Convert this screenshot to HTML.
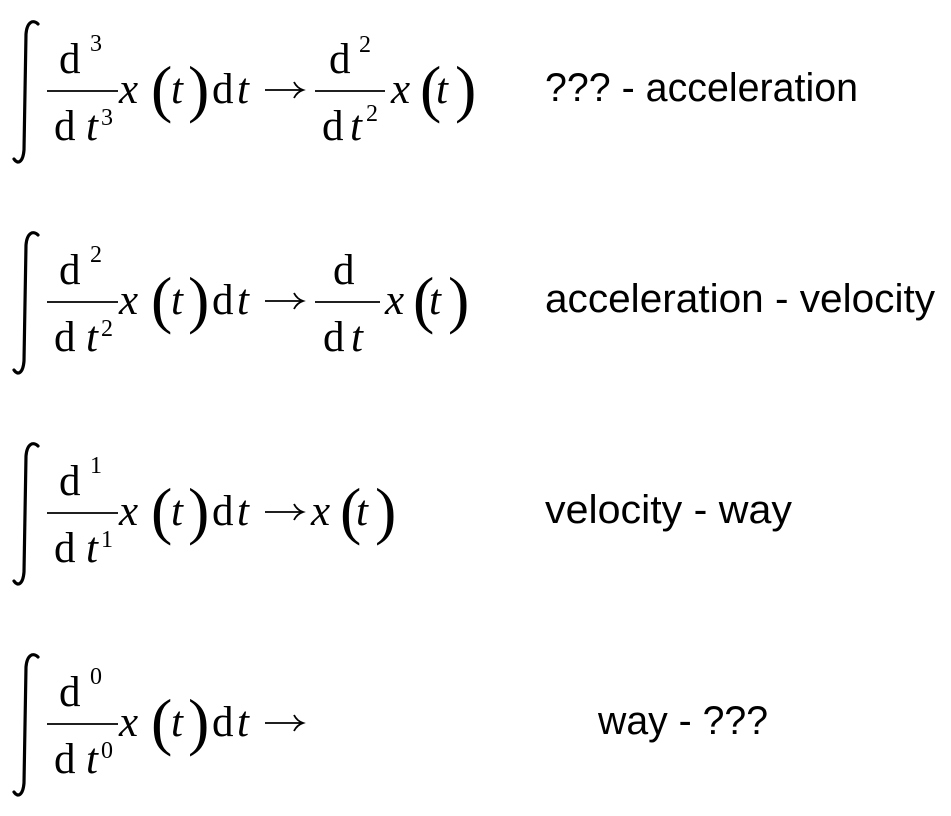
<!DOCTYPE html>
<html><head><meta charset="utf-8"><style>
html,body{margin:0;padding:0;background:#fff;}
svg{display:block}
.m{font-family:"Liberation Serif",serif;font-size:43px;fill:#000}
.i{font-style:italic}
.s{font-family:"Liberation Serif",serif;font-size:24px;fill:#000}
.p{font-family:"Liberation Serif",serif;font-size:64px;fill:#000}
.t{font-family:"Liberation Sans","DejaVu Sans",sans-serif;font-size:40px;fill:#000}
</style></head><body>
<svg width="951" height="816" viewBox="0 0 951 816" xmlns="http://www.w3.org/2000/svg">
<defs>
<g id="integ">
<path d="M38,24 C33,19 27,22 26,34 L24,150 C23,162 18,165 14,159" fill="none" stroke="#000" stroke-width="3.2" stroke-linecap="round"/>
</g>
<g id="lhs">
<use href="#integ"/>
<line x1="47" y1="91" x2="118" y2="91" stroke="#000" stroke-width="1.8"/>
<text class="m" x="59" y="73">d</text>
<text class="m" x="54" y="140">d</text>
<text class="m i" x="86" y="140">t</text>
<text class="m i" x="119" y="103">x</text>
<text class="p" x="151" y="110">(</text>
<text class="m i" x="171" y="103">t</text>
<text class="p" x="188" y="110">)</text>
<text class="m" x="212" y="103">d</text>
<text class="m i" x="237" y="103">t</text>
<line x1="265" y1="90" x2="302" y2="90" stroke="#000" stroke-width="1.8"/>
<path d="M294,82 Q297,88 303,90 Q297,92 294,98" fill="none" stroke="#000" stroke-width="1.8"/>
</g>
</defs>

<!-- Row 1 -->
<g>
<use href="#lhs"/>
<text class="s" x="90" y="51">3</text>
<text class="s" x="101" y="125">3</text>
<line x1="315" y1="91" x2="385" y2="91" stroke="#000" stroke-width="1.8"/>
<text class="m" x="329" y="73">d</text>
<text class="s" x="359" y="52">2</text>
<text class="m" x="322" y="140">d</text>
<text class="m i" x="350" y="140">t</text>
<text class="s" x="366" y="121">2</text>
<text class="m i" x="391" y="103">x</text>
<text class="p" x="420" y="110">(</text>
<text class="m i" x="436" y="103">t</text>
<text class="p" x="455" y="110">)</text>
<text class="t" x="545" y="101" textLength="313" lengthAdjust="spacingAndGlyphs">??? - acceleration</text>
</g>

<!-- Row 2 -->
<g transform="translate(0,211)">
<use href="#lhs"/>
<text class="s" x="90" y="51">2</text>
<text class="s" x="101" y="125">2</text>
<line x1="315" y1="91" x2="380" y2="91" stroke="#000" stroke-width="1.8"/>
<text class="m" x="333" y="73">d</text>
<text class="m" x="323" y="140">d</text>
<text class="m i" x="351" y="140">t</text>
<text class="m i" x="385" y="103">x</text>
<text class="p" x="413" y="110">(</text>
<text class="m i" x="429" y="103">t</text>
<text class="p" x="448" y="110">)</text>
<text class="t" x="545" y="101" textLength="390" lengthAdjust="spacingAndGlyphs">acceleration - velocity</text>
</g>

<!-- Row 3 -->
<g transform="translate(0,422)">
<use href="#lhs"/>
<text class="s" x="90" y="51">1</text>
<text class="s" x="101" y="125">1</text>
<text class="m i" x="311" y="103">x</text>
<text class="p" x="340" y="110">(</text>
<text class="m i" x="356" y="103">t</text>
<text class="p" x="375" y="110">)</text>
<text class="t" x="545" y="101" textLength="247" lengthAdjust="spacingAndGlyphs">velocity - way</text>
</g>

<!-- Row 4 -->
<g transform="translate(0,633)">
<use href="#lhs"/>
<text class="s" x="90" y="51">0</text>
<text class="s" x="101" y="125">0</text>
<text class="t" x="598" y="101" textLength="170" lengthAdjust="spacingAndGlyphs">way - ???</text>
</g>
</svg>
</body></html>
